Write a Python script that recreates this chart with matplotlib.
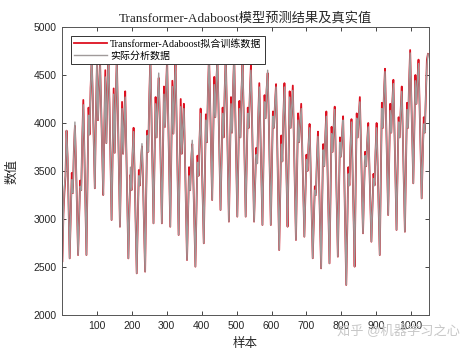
import numpy as np
import matplotlib.pyplot as plt

# actual values, one row per daily cycle (every 3rd sample, trough first)
actual_rows = [
    [2560, 3050, 3340, 3450, 3920, 3640, 3100],
    [2590, 3040, 3410, 3270, 3710, 4010, 3600, 3110],
    [2625, 3020, 3340, 3300, 3830, 4190, 3720, 3170],
    [2625, 3430, 4080, 3880, 4370, 4700, 4290, 3800],
    [3320, 4050, 4650, 4030, 4370, 4600, 4200, 3720],
    [3250, 3930, 4480, 3790, 4340, 4700, 4190, 3590],
    [2990, 3710, 4300, 3690, 4270, 4650, 4130, 3530],
    [2920, 3600, 4150, 3680, 4030, 4270, 3770, 3180],
    [2590, 3110, 3540, 3300, 3670, 3910, 3470, 2950],
    [2434, 2990, 3450, 3350, 3610, 3785, 3390, 2920],
    [2452, 3230, 3870, 3700, 4270, 4650, 4140, 3550],
    [2955, 3640, 4200, 3850, 4250, 4520, 4050, 3500],
    [2955, 3700, 4300, 3960, 4360, 4620, 4110, 3520],
    [2920, 3720, 4380, 3890, 4330, 4620, 4080, 3460],
    [2834, 3570, 4170, 3680, 3960, 4150, 3680, 3130],
    [2573, 3060, 3450, 3300, 3610, 3820, 3430, 2970],
    [2504, 3100, 3590, 3450, 3840, 4100, 3690, 3220],
    [2747, 3450, 4030, 3800, 4330, 4680, 4240, 3720],
    [3198, 3860, 4400, 4060, 4430, 4680, 4200, 3650],
    [3094, 3650, 4100, 3850, 4350, 4680, 4170, 3570],
    [2973, 3650, 4200, 3900, 4370, 4680, 4180, 3600],
    [3025, 3640, 4150, 3850, 4330, 4650, 4160, 3590],
    [3025, 3620, 4100, 3950, 4310, 4550, 4080, 3530],
    [2973, 3350, 3670, 3580, 4060, 4375, 3940, 3440],
    [2938, 3640, 4220, 4050, 4350, 4550, 4070, 3500],
    [2938, 3560, 4070, 3950, 4200, 4375, 3870, 3270],
    [2677, 3280, 3780, 3600, 4070, 4375, 3940, 3430],
    [2920, 3660, 4270, 3950, 4180, 4340, 3870, 3330],
    [2782, 3470, 4030, 3800, 4010, 4150, 3750, 3280],
    [2816, 3260, 3620, 3500, 3770, 3950, 3540, 3070],
    [2591, 2980, 3300, 3250, 3620, 3860, 3450, 2970],
    [2486, 3170, 3720, 3550, 3860, 4070, 3610, 3070],
    [2538, 3280, 3890, 3700, 3960, 4140, 3680, 3140],
    [2608, 3260, 3800, 3650, 3880, 4030, 3520, 2910],
    [2313, 2950, 3470, 3350, 3750, 4010, 3560, 3030],
    [2504, 3350, 4050, 3850, 4070, 4220, 3810, 3330],
    [2851, 3300, 3660, 3550, 3800, 3960, 3600, 3180],
    [2764, 3120, 3420, 3350, 3710, 3950, 3550, 3090],
    [2625, 3460, 4150, 3950, 4300, 4535, 4090, 3570],
    [3042, 3640, 4130, 3900, 4210, 4410, 3950, 3420],
    [2886, 3510, 4010, 3850, 4140, 4330, 3890, 3380],
    [2868, 3570, 4140, 3950, 4420, 4730, 4320, 3850],
    [3372, 3960, 4440, 4200, 4450, 4620, 4200, 3710],
    [3215, 3640, 3990, 3900, 4300, 4600, 4720],
]

# model error at the shoulder and at the peak of each cycle
err_shoulder = [-60, 70, 60, 80, -50, 70, 60, 70, -80, 60, 50, 70, 80, 60,
                80, 90, 70, 60, 80, 60, 70, 80, 60, 70, 70, 50, 90, 60,
                70, 50, 40, 60, 70, 50, 70, 50, 40, 50, 60, 70, 50, 70, 60, 70]
err_peak = [0, -40, 50, -30, 40, -50, 30, 60, 40, -30, 30, -50, 40, 30,
            50, -40, 50, 30, -30, 40, 30, -30, 50, 40, -30, 30, 40, 50,
            50, 40, 50, 50, 30, 40, 30, 50, 40, 50, 30, 40, 50, 30, 40, 60]

actual = np.array([v for row in actual_rows for v in row], dtype=float)
samples = np.arange(1, 3 * len(actual), 3)

pred = actual.copy()
start = 0
for k, row in enumerate(actual_rows):
    pred[start + 2] += err_shoulder[k]
    pred[start + 5] += err_peak[k]
    start += len(row)

serif = ['Liberation Serif', 'Noto Sans CJK SC']
sans = ['Liberation Sans', 'Noto Sans CJK SC']
plt.rcParams['font.family'] = sans

fig = plt.figure(figsize=(4.74, 3.55), dpi=100)
ax = fig.add_axes([62 / 474, 40 / 355, 367 / 474, 288 / 355])

ax.plot(samples, pred, color='#dd1020', lw=1.3, label='Transformer-Adaboost拟合训练数据')
ax.plot(samples, actual, color='#a09a9a', lw=1.0, label='实际分析数据')

ax.set_xlim(0, 1051)
ax.set_ylim(2000, 5000)
ax.set_xticks(range(100, 1001, 100))
ax.set_yticks(range(2000, 5001, 500))
ax.tick_params(direction='in', length=3, width=0.6, labelsize=7.5, top=True, right=True,
               colors='#262626', pad=4)
for sp in ax.spines.values():
    sp.set_color('#555555')
    sp.set_linewidth(0.7)

ax.set_title('Transformer-Adaboost模型预测结果及真实值', family=serif, fontsize=9.5,
             pad=4, color='#262626')
ax.set_xlabel('样本', fontsize=9, labelpad=5, color='#262626')
ax.set_ylabel('数值', fontsize=9, labelpad=11, color='#262626')

leg = ax.legend(loc='upper left', bbox_to_anchor=(0.02, 0.975), prop={'family': serif, 'size': 7.2},
                frameon=True, fancybox=False, edgecolor='#333333', borderpad=0.3,
                handlelength=3.3, handletextpad=0.3, labelspacing=0.2, borderaxespad=0.2)
leg.get_frame().set_linewidth(0.7)
leg.get_frame().set_alpha(1)

fig.text(0.97, 0.065, '知乎 @机器学习之心', fontsize=9.5, color='#c8c8c8', ha='right', va='center')

plt.savefig('out.png', dpi=100)
